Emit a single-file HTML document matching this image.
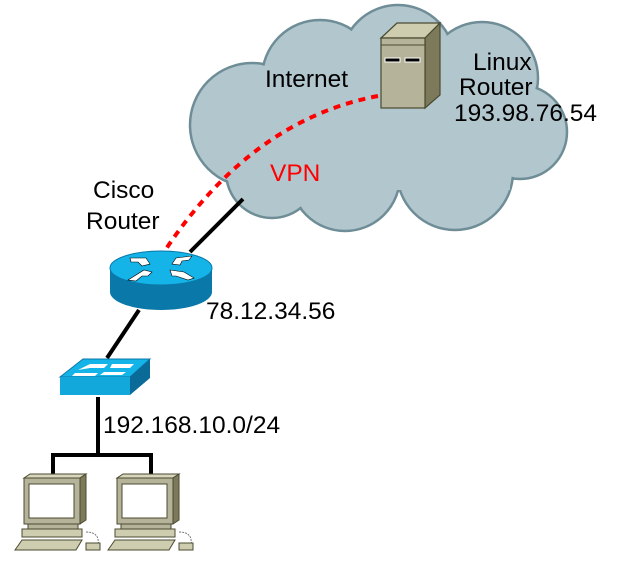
<!DOCTYPE html>
<html><head><meta charset="utf-8"><style>
body{margin:0;background:#fff}
svg{display:block}
text{font-family:"Liberation Sans",sans-serif;font-size:24.5px;fill:#000}
</style></head><body>
<svg width="618" height="564" viewBox="0 0 618 564">
<g fill="#b2c6ce" stroke="#6f8d97" stroke-width="2.5">
<circle cx="252" cy="125" r="62"/><circle cx="320" cy="78" r="58"/><circle cx="398" cy="62" r="57"/>
<circle cx="482" cy="78" r="56"/><circle cx="520" cy="132" r="47"/><circle cx="455" cy="172" r="58"/>
<circle cx="345" cy="176" r="55"/><circle cx="272" cy="172" r="46"/>
</g>
<g fill="#b2c6ce">
<circle cx="252" cy="125" r="60.5"/><circle cx="320" cy="78" r="56.5"/><circle cx="398" cy="62" r="55.5"/>
<circle cx="482" cy="78" r="54.5"/><circle cx="520" cy="132" r="45.5"/><circle cx="455" cy="172" r="56.5"/>
<circle cx="345" cy="176" r="53.5"/><circle cx="272" cy="172" r="44.5"/>
<rect x="260" y="80" width="250" height="110"/>
</g>
<!-- server -->
<polygon points="381,38 397,23 440,23 425,38" fill="#cfcdb0" stroke="#4a4a30" stroke-width="1.2"/>
<polygon points="425,38 440,23 440,95 425,108" fill="#7c7a5a" stroke="#4a4a30" stroke-width="1.2"/>
<rect x="381" y="38" width="44" height="70" fill="#b5b39a" stroke="#4a4a30" stroke-width="1.2"/>
<line x1="381" y1="45" x2="425" y2="45" stroke="#4a4a30"/>
<rect x="385" y="58" width="15" height="4" fill="#000" stroke="#fff" stroke-width="1"/>
<rect x="405" y="58" width="15" height="4" fill="#000" stroke="#fff" stroke-width="1"/>
<!-- lines -->
<line x1="243" y1="199" x2="190" y2="252" stroke="#000" stroke-width="4"/>
<path d="M378,96 Q250,120 162,255" fill="none" stroke="#f00" stroke-width="4" stroke-dasharray="7,6"/>
<line x1="139" y1="310" x2="107" y2="358" stroke="#000" stroke-width="4"/>
<polyline points="98,397 98,455" fill="none" stroke="#000" stroke-width="4"/>
<polyline points="53,477 53,455 151,455 151,477" fill="none" stroke="#000" stroke-width="4"/>
<!-- router -->
<path d="M110,268 L110,292 A51,18 0 0 0 212,292 L212,268 Z" fill="#0a78a8"/>
<ellipse cx="161" cy="268" rx="51" ry="17" fill="#14b4e8" stroke="#0a78a8" stroke-width="1"/>
<g fill="#fff" stroke="#000" stroke-width="0.6">
<polygon points="130,258 146,258 150,264 142,266 138,262 131,262"/><polygon points="192,256 176,258 172,264 180,265 182,261 189,260"/>
<polygon points="128,280 144,270 152,272 148,276 142,276 136,281"/><polygon points="170,270 184,272 194,278 188,280 176,276 172,276"/>
</g>
<!-- switch -->
<polygon points="60,377 83,359 150,359 130,377" fill="#14b4e8" stroke="#0a78a8"/>
<polygon points="130,377 150,359 150,378 130,395" fill="#0a6a98"/>
<rect x="60" y="377" width="70" height="18" fill="#12a8dc"/>
<g fill="#fff"><polygon points="78,370 90,364 108,364 104,368 90,368"/><polygon points="112,364 134,364 130,368 110,368"/><polygon points="75,373 98,373 95,376 72,376"/><polygon points="104,372 126,372 122,375 100,375"/></g>
<!-- PCs -->
<g id="pc">
<polygon points="24,478 30,474 86,474 80,478" fill="#d8d6bc" stroke="#4a4a30"/>
<polygon points="80,478 86,474 86,520 80,524" fill="#7c7a5a" stroke="#4a4a30"/>
<rect x="24" y="478" width="56" height="46" fill="#b5b39a" stroke="#4a4a30"/>
<rect x="29" y="484" width="45" height="34" fill="#fff" stroke="#4a4a30"/>
<rect x="28" y="524" width="50" height="5" fill="#b5b39a" stroke="#4a4a30"/>
<rect x="22" y="529" width="60" height="8" fill="#cfcdb0" stroke="#4a4a30"/>
<polygon points="15,550 22,540 82,540 76,550" fill="#cfcdb0" stroke="#4a4a30"/>
<path d="M86,532 Q100,532 98,545" fill="none" stroke="#777" stroke-dasharray="2,1"/>
<rect x="86" y="543" width="14" height="7" fill="#cfcdb0" stroke="#4a4a30"/>
</g>
<use href="#pc" x="93"/>
<!-- labels -->
<text x="265" y="87">Internet</text>
<text x="473" y="70">Linux</text>
<text x="459" y="95">Router</text>
<text x="454" y="121">193.98.76.54</text>
<text x="270" y="181" style="fill:#f00">VPN</text>
<text x="93" y="198">Cisco</text>
<text x="86" y="229">Router</text>
<text x="206" y="319">78.12.34.56</text>
<text x="103" y="433">192.168.10.0/24</text>
</svg>
</body></html>
